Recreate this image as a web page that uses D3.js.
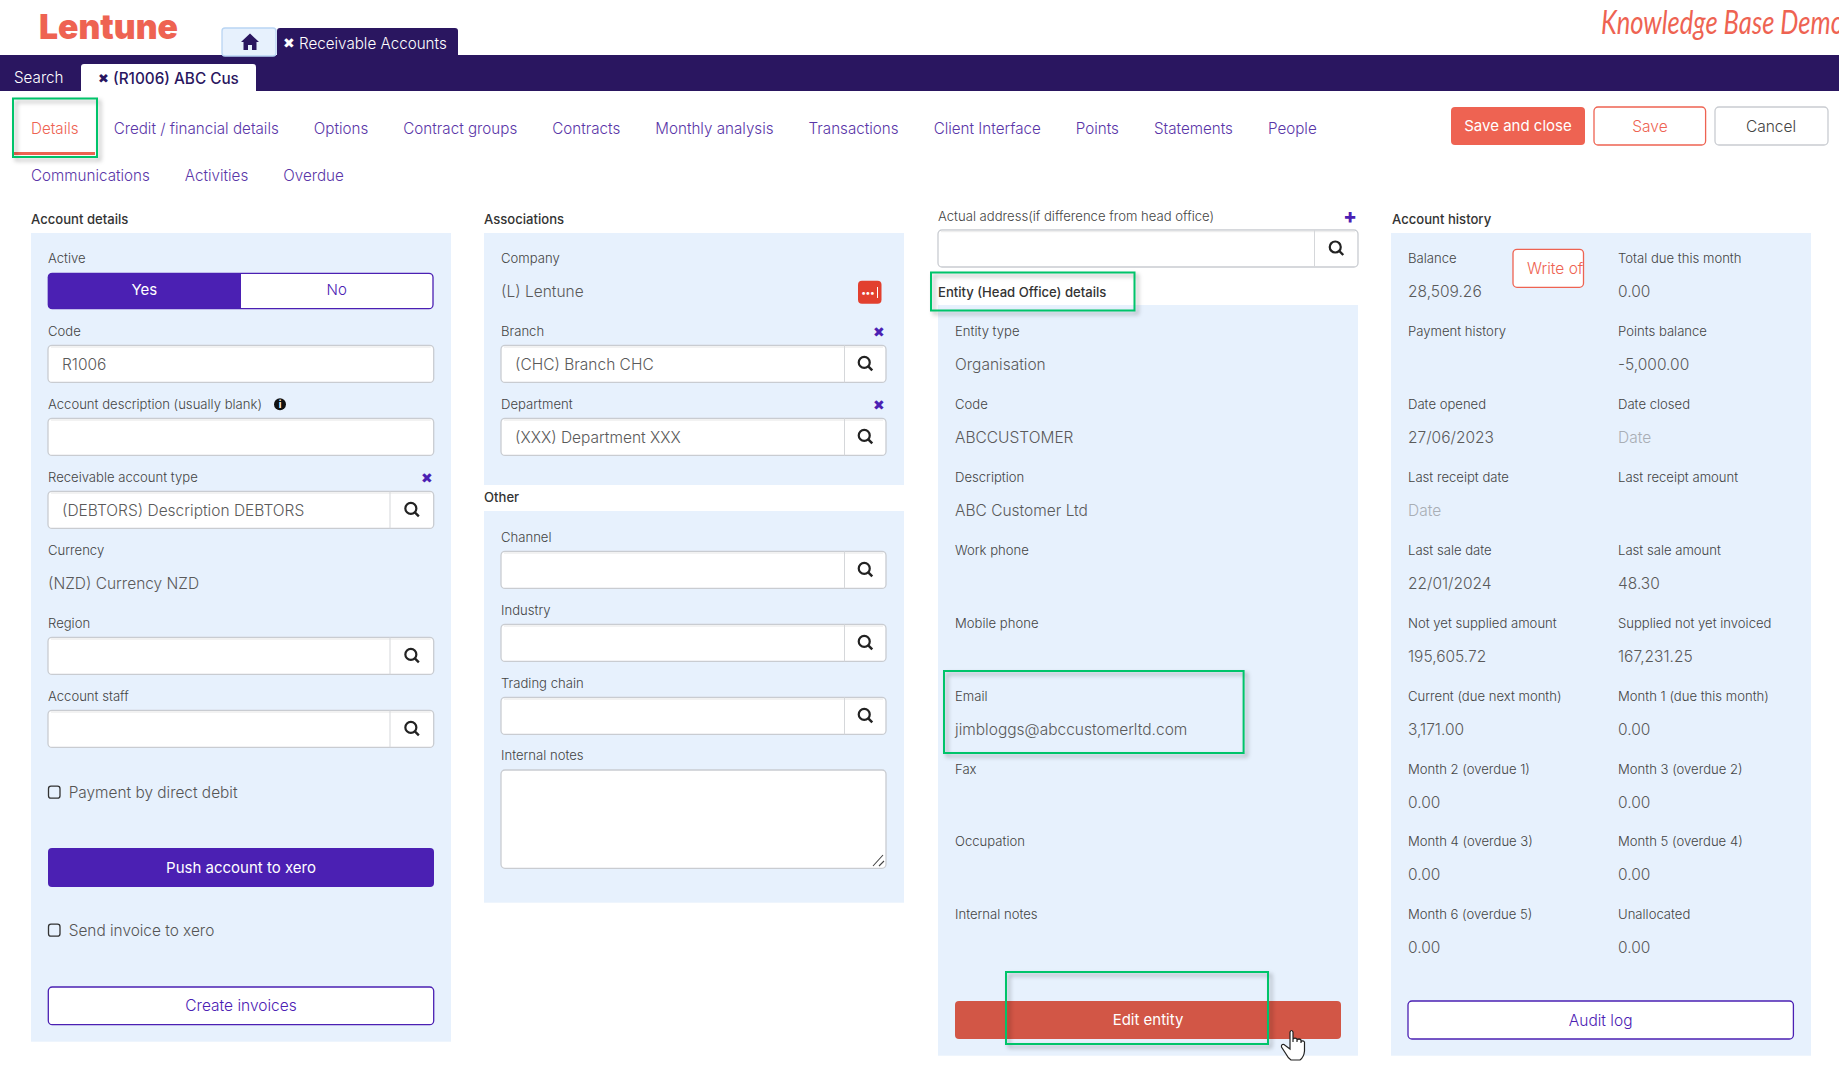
<!DOCTYPE html>
<html>
<head>
<meta charset="utf-8">
<style>
html, body { margin: 0; padding: 0; background: #fff; overflow: hidden; }
svg { display: block; }
text { font-family: "Inter", "Noto Sans", sans-serif; }
</style>
<script src="https://cdn.jsdelivr.net/npm/d3@7"></script>
</head>
<body>
<div id="app"></div>
<script>
// form contents
var navRow1 = ['Details', 'Credit / financial details', 'Options', 'Contract groups', 'Contracts', 'Monthly analysis', 'Transactions', 'Client Interface', 'Points', 'Statements', 'People'];
var navRow2 = ['Communications', 'Activities', 'Overdue'];
var topButtons = ['Save and close', 'Save', 'Cancel'];

var accountFields = [
	{label: 'Active', kind: 'toggle'},
	{label: 'Code', kind: 'input', value: 'R1006'},
	{label: 'Account description (usually blank)', kind: 'input', value: '', info: true},
	{label: 'Receivable account type', kind: 'lookup', value: '(DEBTORS) Description DEBTORS', clear: true},
	{label: 'Currency', kind: 'plain', value: '(NZD) Currency NZD'},
	{label: 'Region', kind: 'lookup', value: ''},
	{label: 'Account staff', kind: 'lookup', value: ''}
];
var toggleOptions = ['Yes', 'No'];

var associationFields = [
	{label: 'Company', kind: 'plain', value: '(L) Lentune'},
	{label: 'Branch', kind: 'lookup', value: '(CHC) Branch CHC', clear: true},
	{label: 'Department', kind: 'lookup', value: '(XXX) Department XXX', clear: true}
];
var otherFields = [
	{label: 'Channel', kind: 'lookup', value: ''},
	{label: 'Industry', kind: 'lookup', value: ''},
	{label: 'Trading chain', kind: 'lookup', value: ''}
];

var entityFields = [
	['Entity type', 'Organisation'],
	['Code', 'ABCCUSTOMER'],
	['Description', 'ABC Customer Ltd'],
	['Work phone', ''],
	['Mobile phone', ''],
	['Email', 'jimbloggs@abccustomerltd.com'],
	['Fax', ''],
	['Occupation', ''],
	['Internal notes', '']
];

var historyLeft = [
	['Balance', '28,509.26'],
	['Payment history', ''],
	['Date opened', '27/06/2023'],
	['Last receipt date', 'Date'],
	['Last sale date', '22/01/2024'],
	['Not yet supplied amount', '195,605.72'],
	['Current (due next month)', '3,171.00'],
	['Month 2 (overdue 1)', '0.00'],
	['Month 4 (overdue 3)', '0.00'],
	['Month 6 (overdue 5)', '0.00']
];
var historyRight = [
	['Total due this month', '0.00'],
	['Points balance', '-5,000.00'],
	['Date closed', 'Date'],
	['Last receipt amount', ''],
	['Last sale amount', '48.30'],
	['Supplied not yet invoiced', '167,231.25'],
	['Month 1 (due this month)', '0.00'],
	['Month 3 (overdue 2)', '0.00'],
	['Month 5 (overdue 4)', '0.00'],
	['Unallocated', '0.00']
];

var PURPLE = '#4b20b3', DARK = '#2a1660', CORAL = '#ee6352', PANEL = '#e7f1fd', GREEN = '#00c46a';
var LABEL = '#444', VALUE = '#5a5a5a', NAV = '#5a36a8';
var LABEL_SIZE = 13.1, VALUE_SIZE = 15.5;

var svg = d3.select('#app').append('svg').attr('width', 1839).attr('height', 1071);

// every form row sits on the same 73px pitch
var rowY = d3.scaleLinear().domain([0, 1]).range([258.7, 331.7]);
var otherY = d3.scaleLinear().domain([0, 1]).range([537.7, 610.7]);
// the two right hand panels lose a pixel after the sixth row
var panelY = d3.scaleLinear().domain([0, 6, 7, 8]).range([331.7, 769.7, 841.7, 914.7]);

function txt(s, x, y, size, fill, weight, anchor) {
	return svg.append('text')
		.attr('x', x).attr('y', y).attr('dy', '.36em')
		.attr('font-size', size).attr('fill', fill)
		.attr('font-weight', weight || 300)
		.attr('text-anchor', anchor || 'start')
		.text(s);
}
function box(x0, y0, x1, y1, fill, stroke, r) {
	return svg.append('rect')
		.attr('x', x0).attr('y', y0)
		.attr('width', x1 - x0).attr('height', y1 - y0)
		.attr('rx', r || 0)
		.attr('fill', fill)
		.attr('stroke', stroke || 'none')
		.attr('stroke-width', stroke ? 1.3 : 0);
}
function searchIcon(cx, cy) {
	var g = svg.append('g').attr('transform', 'translate(' + cx + ',' + cy + ')');
	g.append('circle').attr('cx', -1).attr('cy', -1).attr('r', 5.5).attr('fill', 'none').attr('stroke', '#222').attr('stroke-width', 2.2);
	g.append('line').attr('x1', 3).attr('y1', 3).attr('x2', 7).attr('y2', 7).attr('stroke', '#222').attr('stroke-width', 2.4);
}
function inputBox(x0, y, x1, divider, value) {
	box(x0, y, x1, y + 37, '#fff', '#c9ccd1', 4);
	svg.append('line').attr('x1', x0 + 3).attr('x2', x1 - 3).attr('y1', y + 1.5).attr('y2', y + 1.5).attr('stroke', '#eee').attr('stroke-width', 1.5);
	if (divider) {
		svg.append('line').attr('x1', divider).attr('x2', divider).attr('y1', y).attr('y2', y + 37).attr('stroke', '#d5d7da').attr('stroke-width', 1);
		searchIcon((divider + x1) / 2, y + 18);
	}
	if (value) txt(value, x0 + 14, y + 19.5, VALUE_SIZE, VALUE);
}
function clearMark(x, y) {
	txt('\u2716', x, y, 14, PURPLE, 400, 'middle');
}
function outlined(s, x0, y0, x1, y1) {
	box(x0, y0, x1, y1, '#fff', PURPLE, 4);
	txt(s, (x0 + x1) / 2, (y0 + y1) / 2, VALUE_SIZE, PURPLE, 300, 'middle');
}
function solid(s, x0, y0, x1, y1, fill) {
	box(x0, y0, x1, y1, fill, null, 4);
	txt(s, (x0 + x1) / 2, (y0 + y1) / 2, 15, '#fff', 400, 'middle');
}
function checkbox(s, y) {
	box(48.5, y - 6.5, 60, y + 5.5, 'none', '#333', 2.5);
	txt(s, 68.7, y, 15.4, '#555');
}
function highlight(x0, y0, x1, y1) {
	box(x0, y0, x1, y1, 'none', GREEN, 0)
		.attr('stroke-width', 2)
		.style('filter', 'drop-shadow(3px 3px 2px rgba(0,0,0,.3))');
}

// header
txt('Lentune', 39, 27, 34, CORAL, 900).attr('textLength', 139).attr('lengthAdjust', 'spacingAndGlyphs');
txt('Knowledge Base Demo', 1601, 22, 32, CORAL, 400)
	.style('font-family', '"Liberation Sans Narrow", "Lato", sans-serif')
	.style('font-style', 'italic')
	.attr('textLength', 243).attr('lengthAdjust', 'spacingAndGlyphs');

box(0, 55, 1839, 91, DARK);
box(222, 28, 276, 56, PANEL, '#b9d5f3', 3);
svg.append('path')
	.attr('transform', 'translate(250,42)')
	.attr('d', 'M0,-8.5 L9,0 L6.5,0 L6.5,8 L2,8 L2,3 L-2,3 L-2,8 L-6.5,8 L-6.5,0 L-9,0 Z')
	.attr('fill', DARK);
svg.append('path').attr('d', 'M277,55 V31 Q277,28 280,28 H455 Q458,28 458,31 V55 Z').attr('fill', DARK);
txt('\u2716', 289, 43, 14, '#fff', 400, 'middle');
txt('Receivable Accounts', 299, 44, 15.2, '#fff', 300);
txt('Search', 14, 78, 15.2, '#fff', 300);
svg.append('path').attr('d', 'M81,91 V67 Q81,64 84,64 H253 Q256,64 256,67 V91 Z').attr('fill', '#fff');
txt('\u2716', 103, 78, 13, DARK, 400, 'middle');
txt('(R1006) ABC Cus', 113, 78, 15.3, DARK, 500);

// tab strip, laid out left to right with a fixed gap
function navStrip(items, y) {
	var x = 31;
	svg.append('g').selectAll('text').data(items).join('text')
		.attr('y', y).attr('dy', '.36em')
		.attr('font-size', 15.2).attr('font-weight', 300)
		.attr('fill', function(d) { return d === 'Details' ? CORAL : NAV; })
		.text(function(d) { return d; })
		.attr('x', function() {
			var at = x;
			x += this.getComputedTextLength() + 35;
			return at;
		});
}
navStrip(navRow1, 129);
navStrip(navRow2, 176);
box(14, 152, 95, 155, CORAL);

// save buttons
solid(topButtons[0], 1451, 107, 1585, 145, CORAL);
box(1594, 107, 1705.6, 145, '#fff', CORAL, 4);
txt(topButtons[1], 1650, 126, VALUE_SIZE, CORAL, 300, 'middle');
box(1715, 107, 1828, 145, '#fff', '#c9ccd1', 4);
txt(topButtons[2], 1771, 126, VALUE_SIZE, '#444', 300, 'middle');

// panels
box(31, 233, 451, 1041.7, PANEL);
box(484, 233, 904, 485, PANEL);
box(484, 511, 904, 902.7, PANEL);
box(938, 305, 1358, 1055.7, PANEL);
box(1391, 233, 1811, 1055.7, PANEL);

txt('Account details', 31, 219.7, 13.1, '#333', 500);
txt('Associations', 484, 219.7, 13.1, '#333', 500);
txt('Other', 484, 497.7, 13.1, '#333', 500);
txt('Account history', 1392, 219.7, 13.1, '#333', 500);
txt('Entity (Head Office) details', 938, 292.7, 13.1, '#333', 500);

// generic column of fields
function fieldColumn(fields, scale, x0, x1, divider) {
	fields.forEach(function(f, i) {
		var y = scale(i);
		txt(f.label, x0, y, LABEL_SIZE, LABEL);
		if (f.kind === 'input') inputBox(x0, y + 13.7, x1, null, f.value);
		if (f.kind === 'lookup') inputBox(x0, y + 13.7, x1, divider, f.value);
		if (f.kind === 'plain') txt(f.value, x0, y + 33, VALUE_SIZE, VALUE);
		if (f.clear) clearMark(x1 - 7, y);
		if (f.info) {
			svg.append('circle').attr('cx', 280).attr('cy', y - 0.5).attr('r', 6).attr('fill', '#111');
			txt('i', 280, y - 0.5, 10, '#fff', 700, 'middle');
		}
	});
}
fieldColumn(accountFields, rowY, 48, 433.7, 390);
fieldColumn(associationFields, rowY, 501, 886, 844.5);
fieldColumn(otherFields, otherY, 501, 886, 844.5);

// yes / no toggle
var toggleX = d3.scaleBand().domain(toggleOptions).range([48, 433]);
box(48.3, 273.3, 433, 308.7, '#fff', PURPLE, 4);
svg.append('path').attr('d', 'M241,273.3 H52 Q48,273.3 48,277.3 V304.7 Q48,308.7 52,308.7 H241 Z').attr('fill', PURPLE);
svg.selectAll('.toggle').data(toggleOptions).join('text')
	.attr('class', 'toggle')
	.attr('x', function(d) { return toggleX(d) + toggleX.bandwidth() / 2; })
	.attr('y', 290).attr('dy', '.36em')
	.attr('text-anchor', 'middle').attr('font-size', 15)
	.attr('font-weight', function(d) { return d === 'Yes' ? 400 : 300; })
	.attr('fill', function(d) { return d === 'Yes' ? '#fff' : PURPLE; })
	.text(function(d) { return d; });

checkbox('Payment by direct debit', 792.7);
solid('Push account to xero', 48, 848, 434, 887, PURPLE);
checkbox('Send invoice to xero', 930.7);
outlined('Create invoices', 48.3, 987, 433.7, 1024.7);

// company badge
box(858, 280.7, 881.5, 303.7, '#e2402f', null, 4);
txt('\u2022\u2022\u2022', 868, 292.5, 9, '#fff', 700, 'middle');
svg.append('line').attr('x1', 877.5).attr('x2', 877.5).attr('y1', 287).attr('y2', 298).attr('stroke', '#fff').attr('stroke-width', 1);

// internal notes box
txt('Internal notes', 501, 755.7, LABEL_SIZE, LABEL);
box(501, 770, 886, 868.3, '#fff', '#c9ccd1', 4);
svg.append('path').attr('d', 'M873,866 L883,855 M879,866 L884,861').attr('stroke', '#444').attr('stroke-width', 1.1);

// actual address
txt('Actual address(if difference from head office)', 938, 216.7, LABEL_SIZE, LABEL);
txt('+', 1350, 215.5, 20, PURPLE, 800, 'middle');
inputBox(938, 230, 1358, 1314.5, '');

// entity panel
fieldsPlain(entityFields, 955);
solid('Edit entity', 955, 1001, 1341, 1039, '#d25646');

// account history panel
fieldsPlain(historyLeft, 1408);
fieldsPlain(historyRight, 1618);
box(1513, 249.3, 1583.5, 287.3, '#fff', CORAL, 4);
svg.append('clipPath').attr('id', 'writeoff').append('rect').attr('x', 1513).attr('y', 249).attr('width', 70).attr('height', 39);
txt('Write off', 1527, 268, VALUE_SIZE, CORAL).attr('clip-path', 'url(#writeoff)');
outlined('Audit log', 1408, 1001, 1793.4, 1039);

function fieldsPlain(rows, x) {
	var first = rows === entityFields ? 0 : -1;
	rows.forEach(function(r, i) {
		var at = panelY(i + first);
		txt(r[0], x, at, LABEL_SIZE, LABEL);
		var faded = r[1] === 'Date';
		if (r[1]) txt(r[1], x, at + 33, VALUE_SIZE, faded ? '#a9aeb5' : VALUE);
	});
}

// annotation boxes on top of the form
highlight(13, 98.5, 97, 157);
highlight(931, 272.5, 1134.5, 310.5);
highlight(944, 671, 1243.6, 753);
highlight(1006, 972, 1268, 1044);

// hand cursor
svg.append('path')
	.attr('transform', 'translate(1281,1029)')
	.attr('d', 'M9,20 V3 Q10.5,0 12,3 V13 V10 Q14,8 16,10 V13 V11 Q18,9 20,11 V14 V12.5 Q22,11 23.5,13 V22 Q23,28 19,31 H10 Q7,29 5,25 L0.5,18 Q0,15 3,15.5 Z')
	.attr('fill', '#fff').attr('stroke', '#222').attr('stroke-width', 1.2);
</script>
</body>
</html>
